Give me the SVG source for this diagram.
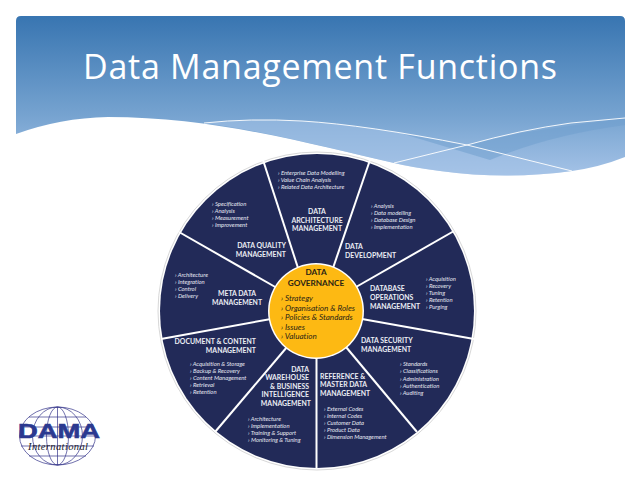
<svg xmlns="http://www.w3.org/2000/svg" width="638" height="479" viewBox="0 0 638 479">
<style>
text{font-family:Lato,"Open Sans","Liberation Sans",sans-serif;font-variant-ligatures:none}
.h{font-size:6.9px;fill:#eceef5;font-weight:700}
.l{font-size:5.9px;font-style:italic;fill:#e6e8f2}
.m{text-anchor:middle}
.e{text-anchor:end}
.s{stroke:#fff;stroke-width:2;fill:none}
.g{font-size:8.2px;fill:#2a2415;font-weight:700}
.gi{font-size:8.1px;font-style:italic;fill:#2a2415}
.w{stroke:#fff;stroke-width:1;fill:none;opacity:.9}
.gl{stroke:#33348a;stroke-width:.7;fill:none}
</style>
<defs>
<linearGradient id="sky" gradientUnits="userSpaceOnUse" x1="0" y1="16" x2="0" y2="176"><stop offset="0" stop-color="#3875b1"/><stop offset=".62" stop-color="#76a3d0"/><stop offset="1" stop-color="#a5c3e7"/></linearGradient>
</defs>
<rect width="638" height="479" fill="#fff"/>
<g id="header">
<path d="M16 134V21Q16 16 21 16H620Q625 16 625 21V157Q600 167 572 171Q507 180 440 171Q410 167 394 163C320 147 220 117 108 117Q60 118 16 134Z" fill="url(#sky)"/>
<path d="M204 123Q250 118 302 121Q367 125 467 145L572 171Q507 180 440 171Q410 167 394 163C340 151 270 132 204 123Z" fill="#a5c3e7" opacity=".5"/>
<path d="M400 133L467 145L520 133L625 118V125Q550 135 490 160Q440 145 400 133Z" fill="#6f9fcd" opacity=".55"/>
<path class="w" d="M204 123Q250 118 302 121Q367 125 467 145L572 171"/>
<path class="w" d="M394 163L467 145Q520 130 571 123L625 118"/>
<text x="83" y="79" font-size="34" fill="#fff" id="title" textLength="474" style="font-family:'Open Sans',sans-serif">Data Management Functions</text>
</g>
<g id="wheel">
<circle cx="317" cy="311" r="159" fill="#fff" stroke="#d8d8d8" stroke-width="1"/>
<circle cx="317" cy="311" r="157" fill="#222a58"/>
</g>
<g id="connectors">
<line class="s" x1="263" y1="160" x2="298" y2="268"/>
<line class="s" x1="370" y1="160" x2="333" y2="268"/>
<line class="s" x1="454" y1="231" x2="356" y2="287"/>
<line class="s" x1="474" y1="339" x2="362" y2="319"/>
<line class="s" x1="417" y1="432" x2="346" y2="347"/>
<line class="s" x1="316.500" y1="355" x2="316.500" y2="469"/>
<line class="s" x1="215" y1="432" x2="287" y2="347"/>
<line class="s" x1="161" y1="339" x2="271" y2="319"/>
<line class="s" x1="179" y1="232" x2="277" y2="288"/>
</g>
<g id="data-architecture">
<text class="l" x="278" y="175">›  Enterprise Data Modelling</text>
<text class="l" x="278" y="182">›  Value Chain Analysis</text>
<text class="l" x="278" y="189">›  Related Data Architecture</text>
<text class="h m" x="317" y="214">DATA</text>
<text class="h m" x="317" y="223">ARCHITECTURE</text>
<text class="h m" x="317" y="231">MANAGEMENT</text>
</g>
<g id="data-quality">
<text class="l" x="212" y="206">›  Specification</text>
<text class="l" x="212" y="213">›  Analysis</text>
<text class="l" x="212" y="220">›  Measurement</text>
<text class="l" x="212" y="227">›  Improvement</text>
<text class="h e" x="286" y="248">DATA QUALITY</text>
<text class="h e" x="286" y="257">MANAGEMENT</text>
</g>
<g id="meta-data">
<text class="l" x="175" y="277">›  Architecture</text>
<text class="l" x="175" y="284">›  Integration</text>
<text class="l" x="175" y="291">›  Control</text>
<text class="l" x="175" y="298">›  Delivery</text>
<text class="h m" x="237" y="296">META DATA</text>
<text class="h m" x="237" y="305">MANAGEMENT</text>
</g>
<g id="data-development">
<text class="l" x="371" y="208">›  Analysis</text>
<text class="l" x="371" y="215">›  Data modelling</text>
<text class="l" x="371" y="222">›  Database Design</text>
<text class="l" x="371" y="229">›  Implementation</text>
<text class="h" x="345" y="248.500">DATA</text>
<text class="h" x="345" y="257.500">DEVELOPMENT</text>
</g>
<g id="database-operations">
<text class="h" x="370" y="291">DATABASE</text>
<text class="h" x="370" y="300">OPERATIONS</text>
<text class="h" x="370" y="309">MANAGEMENT</text>
<text class="l" x="426" y="281">›  Acquisition</text>
<text class="l" x="426" y="288">›  Recovery</text>
<text class="l" x="426" y="295">›  Tuning</text>
<text class="l" x="426" y="302">›  Retention</text>
<text class="l" x="426" y="309">›  Purging</text>
</g>
<g id="document-content">
<text class="h e" x="256" y="344">DOCUMENT &amp; CONTENT</text>
<text class="h e" x="256" y="353">MANAGEMENT</text>
<text class="l" x="190" y="366">›  Acquisition &amp; Storage</text>
<text class="l" x="190" y="373">›  Backup &amp; Recovery</text>
<text class="l" x="190" y="380">›  Content Management</text>
<text class="l" x="190" y="387">›  Retrieval</text>
<text class="l" x="190" y="394">›  Retention</text>
</g>
<g id="data-warehouse">
<text class="h e" x="309" y="371.500">DATA</text>
<text class="h e" x="309" y="380">WAREHOUSE</text>
<text class="h e" x="309" y="388.500">&amp; BUSINESS</text>
<text class="h e" x="309" y="397">INTELLIGENCE</text>
<text class="h e" x="311" y="405.500">MANAGEMENT</text>
<text class="l" x="248" y="421">›  Architecture</text>
<text class="l" x="248" y="428">›  Implementation</text>
<text class="l" x="248" y="435">›  Training &amp; Support</text>
<text class="l" x="248" y="442">›  Monitoring &amp; Tuning</text>
</g>
<g id="reference-master">
<text class="h" x="320" y="378.500">REFERENCE &amp;</text>
<text class="h" x="320" y="387">MASTER DATA</text>
<text class="h" x="320" y="395.500">MANAGEMENT</text>
<text class="l" x="324" y="411">›  External Codes</text>
<text class="l" x="324" y="418">›  Internal Codes</text>
<text class="l" x="324" y="425">›  Customer Data</text>
<text class="l" x="324" y="432">›  Product Data</text>
<text class="l" x="324" y="439">›  Dimension Management</text>
</g>
<g id="data-security">
<text class="h" x="361" y="343">DATA SECURITY</text>
<text class="h" x="361" y="352">MANAGEMENT</text>
<text class="l" x="400" y="366">›  Standards</text>
<text class="l" x="400" y="373">›  Classifications</text>
<text class="l" x="400" y="381">›  Administration</text>
<text class="l" x="400" y="388">›  Authentication</text>
<text class="l" x="400" y="395">›  Auditing</text>
</g>
<g id="data-governance">
<circle cx="316" cy="311" r="48" fill="#fff"/>
<circle cx="316" cy="311" r="46.500" fill="#fdb913"/>
<text class="g m" x="316" y="275">DATA</text>
<text class="g m" x="316" y="286">GOVERNANCE</text>
<text class="gi" x="281" y="301">› Strategy</text>
<text class="gi" x="281" y="311">› Organisation &amp; Roles</text>
<text class="gi" x="281" y="320">› Policies &amp; Standards</text>
<text class="gi" x="281" y="330">› Issues</text>
<text class="gi" x="281" y="339">› Valuation</text>
</g>
<g id="logo">
<ellipse class="gl" cx="57.500" cy="436" rx="38" ry="29"/>
<ellipse class="gl" cx="57.500" cy="436" rx="25" ry="29"/>
<ellipse class="gl" cx="57.500" cy="436" rx="11" ry="29"/>
<line class="gl" x1="57.500" y1="407" x2="57.500" y2="465"/>
<path class="gl" d="M29 417H86M21 427H94M19.500 436H95.500M21 446H94M29 456H86"/>
<text x="18" y="438" font-size="20" font-weight="700" fill="#2b3990" stroke="#2b3990" stroke-width=".6" textLength="82" lengthAdjust="spacingAndGlyphs" style="font-family:'Liberation Sans',sans-serif">DAMA</text>
<text x="28" y="450" font-size="10.500" font-style="italic" fill="#1a1a2a" textLength="60" style="font-family:'Liberation Serif',serif">International</text>
</g>
</svg>
